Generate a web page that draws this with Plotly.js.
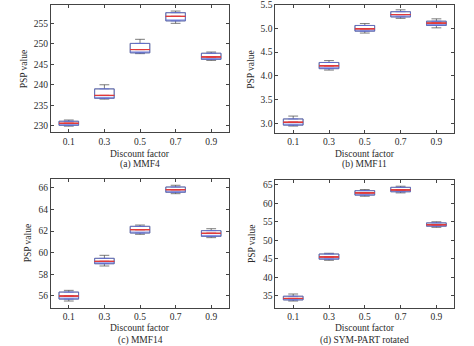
<!DOCTYPE html>
<html>
<head>
<meta charset="utf-8">
<script src="https://cdn.plot.ly/plotly-3.0.1.min.js"></script>
<style>
  html, body { margin: 0; padding: 0; background: #fff; }
  #chart { width: 474px; height: 346px; }
</style>
</head>
<body>
<div id="chart"></div>
<script>
// Discount factor settings (shared category axis of all four panels)
const factors = ['0.1', '0.3', '0.5', '0.7', '0.9'];

// (a) MMF4 — PSP value box statistics
const mmf4Low    = [229.9, 236.5, 247.6, 255.0, 245.95];
const mmf4Q1     = [230.1, 236.7, 247.8, 255.6, 246.2];
const mmf4Median = [230.6, 237.4, 248.6, 256.7, 246.8];
const mmf4Q3     = [231.1, 239.0, 250.1, 257.6, 247.7];
const mmf4High   = [231.4, 240.0, 251.1, 258.0, 248.0];

// (b) MMF11
const mmf11Low    = [2.94, 4.12, 4.90, 5.21, 5.01];
const mmf11Q1     = [2.96, 4.15, 4.94, 5.24, 5.06];
const mmf11Median = [3.02, 4.21, 4.99, 5.29, 5.11];
const mmf11Q3     = [3.09, 4.28, 5.06, 5.35, 5.15];
const mmf11High   = [3.15, 4.32, 5.10, 5.39, 5.20];

// (c) MMF14
const mmf14Low    = [55.51, 58.76, 61.70, 65.47, 61.39];
const mmf14Q1     = [55.69, 58.97, 61.82, 65.60, 61.51];
const mmf14Median = [55.97, 59.19, 62.13, 65.84, 61.79];
const mmf14Q3     = [56.34, 59.47, 62.44, 66.09, 62.04];
const mmf14High   = [56.50, 59.75, 62.56, 66.25, 62.22];

// (d) SYM-PART rotated
const symLow    = [33.6, 44.6, 61.9, 62.8, 53.5];
const symQ1     = [33.9, 44.9, 62.2, 63.1, 53.8];
const symMedian = [34.3, 45.5, 62.8, 63.6, 54.2];
const symQ3     = [34.9, 46.3, 63.4, 64.3, 54.7];
const symHigh   = [35.5, 46.5, 63.7, 64.6, 55.0];

const FONT = 'Liberation Serif, Times New Roman, serif';
const INK = '#2a2a2a';
const BOX_W = 0.55;

// Each panel: dark whiskers, blue box outline, red median line
function panelTraces(xa, ya, low, q1, med, q3, high) {
  const common = {
    type: 'box', x: factors, xaxis: xa, yaxis: ya,
    boxpoints: false, width: BOX_W, whiskerwidth: 0.5,
    fillcolor: 'rgba(0,0,0,0)', hoverinfo: 'skip', showlegend: false
  };
  return [
    Object.assign({}, common, {
      q1: q1, median: med, q3: q3, lowerfence: low, upperfence: high,
      line: { color: '#444', width: 0.7 }
    }),
    Object.assign({}, common, {
      q1: q1, median: q1, q3: q3, lowerfence: q1, upperfence: q3,
      line: { color: '#5a6ad8', width: 0.7 }
    }),
    Object.assign({}, common, {
      q1: med, median: med, q3: med, lowerfence: med, upperfence: med,
      line: { color: '#e23a3a', width: 1 }
    })
  ];
}

const data = [].concat(
  panelTraces('x', 'y', mmf4Low, mmf4Q1, mmf4Median, mmf4Q3, mmf4High),
  panelTraces('x2', 'y2', mmf11Low, mmf11Q1, mmf11Median, mmf11Q3, mmf11High),
  panelTraces('x3', 'y3', mmf14Low, mmf14Q1, mmf14Median, mmf14Q3, mmf14High),
  panelTraces('x4', 'y4', symLow, symQ1, symMedian, symQ3, symHigh)
);

const W = 474, H = 346;
const px = v => v / W;
const py = v => 1 - v / H;

function xAxis(domain, anchor) {
  return {
    domain: domain, anchor: anchor, type: 'category',
    range: [-0.5, 4.5], showline: true, mirror: 'ticks',
    linecolor: '#444', linewidth: 1, ticks: 'inside', ticklen: 3,
    tickcolor: '#444', showgrid: false, zeroline: false,
    tickfont: { family: FONT, size: 9.5, color: INK }
  };
}
function yAxis(domain, anchor, range, dtick, fmt) {
  return {
    domain: domain, anchor: anchor, range: range, dtick: dtick,
    tickformat: fmt, showline: true, mirror: 'ticks',
    linecolor: '#444', linewidth: 1, ticks: 'inside', ticklen: 3,
    tickcolor: '#444', showgrid: false, zeroline: false,
    ticklabeloverflow: 'allow',
    tickfont: { family: FONT, size: 9.5, color: INK }
  };
}

const leftX = [px(51), px(229)];
const rightX = [px(275.3), px(454.3)];

const layout = {
  width: W, height: H,
  margin: { l: 0, r: 0, t: 0, b: 0 },
  paper_bgcolor: '#fff', plot_bgcolor: '#fff',
  showlegend: false, boxmode: 'overlay',
  xaxis:  xAxis(leftX, 'y'),
  yaxis:  yAxis([py(132.3), py(4.5)], 'x', [228.4, 259.6], 5, 'd'),
  xaxis2: xAxis(rightX, 'y2'),
  yaxis2: yAxis([py(132.7), py(4.5)], 'x2', [2.8, 5.502], 0.5, '.1f'),
  xaxis3: xAxis(leftX, 'y3'),
  yaxis3: yAxis([py(307.7), py(178.7)], 'x3', [54.89, 66.86], 2, 'd'),
  xaxis4: xAxis(rightX, 'y4'),
  yaxis4: yAxis([py(307.7), py(180.3)], 'x4', [31.8, 66.2], 5, 'd'),
  annotations: []
};

function label(text, x, y, angle) {
  return {
    text: text, xref: 'paper', yref: 'paper', x: px(x), y: py(y),
    xanchor: 'center', yanchor: 'middle', showarrow: false,
    textangle: angle || 0,
    font: { family: FONT, size: 9.5, color: INK }
  };
}

const panels = [
  { cx: 140,   xt: 153.5, sub: 164.8, sx: 24.3, sy: 69,  name: '(a) MMF4' },
  { cx: 364.8, xt: 153.5, sub: 164.8, sx: 250.8, sy: 70, name: '(b) MMF11' },
  { cx: 140,   xt: 328,   sub: 340.5, sx: 28.3, sy: 243, name: '(c) MMF14' },
  { cx: 364.8, xt: 328,   sub: 340.5, sx: 252, sy: 244,  name: '(d) SYM-PART rotated' }
];
panels.forEach(p => {
  layout.annotations.push(label('Discount factor', p.cx, p.xt));
  layout.annotations.push(label(p.name, p.cx, p.sub));
  layout.annotations.push(label('PSP value', p.sx, p.sy, -90));
});

Plotly.newPlot('chart', data, layout, { displayModeBar: false, staticPlot: true });
</script>
</body>
</html>
